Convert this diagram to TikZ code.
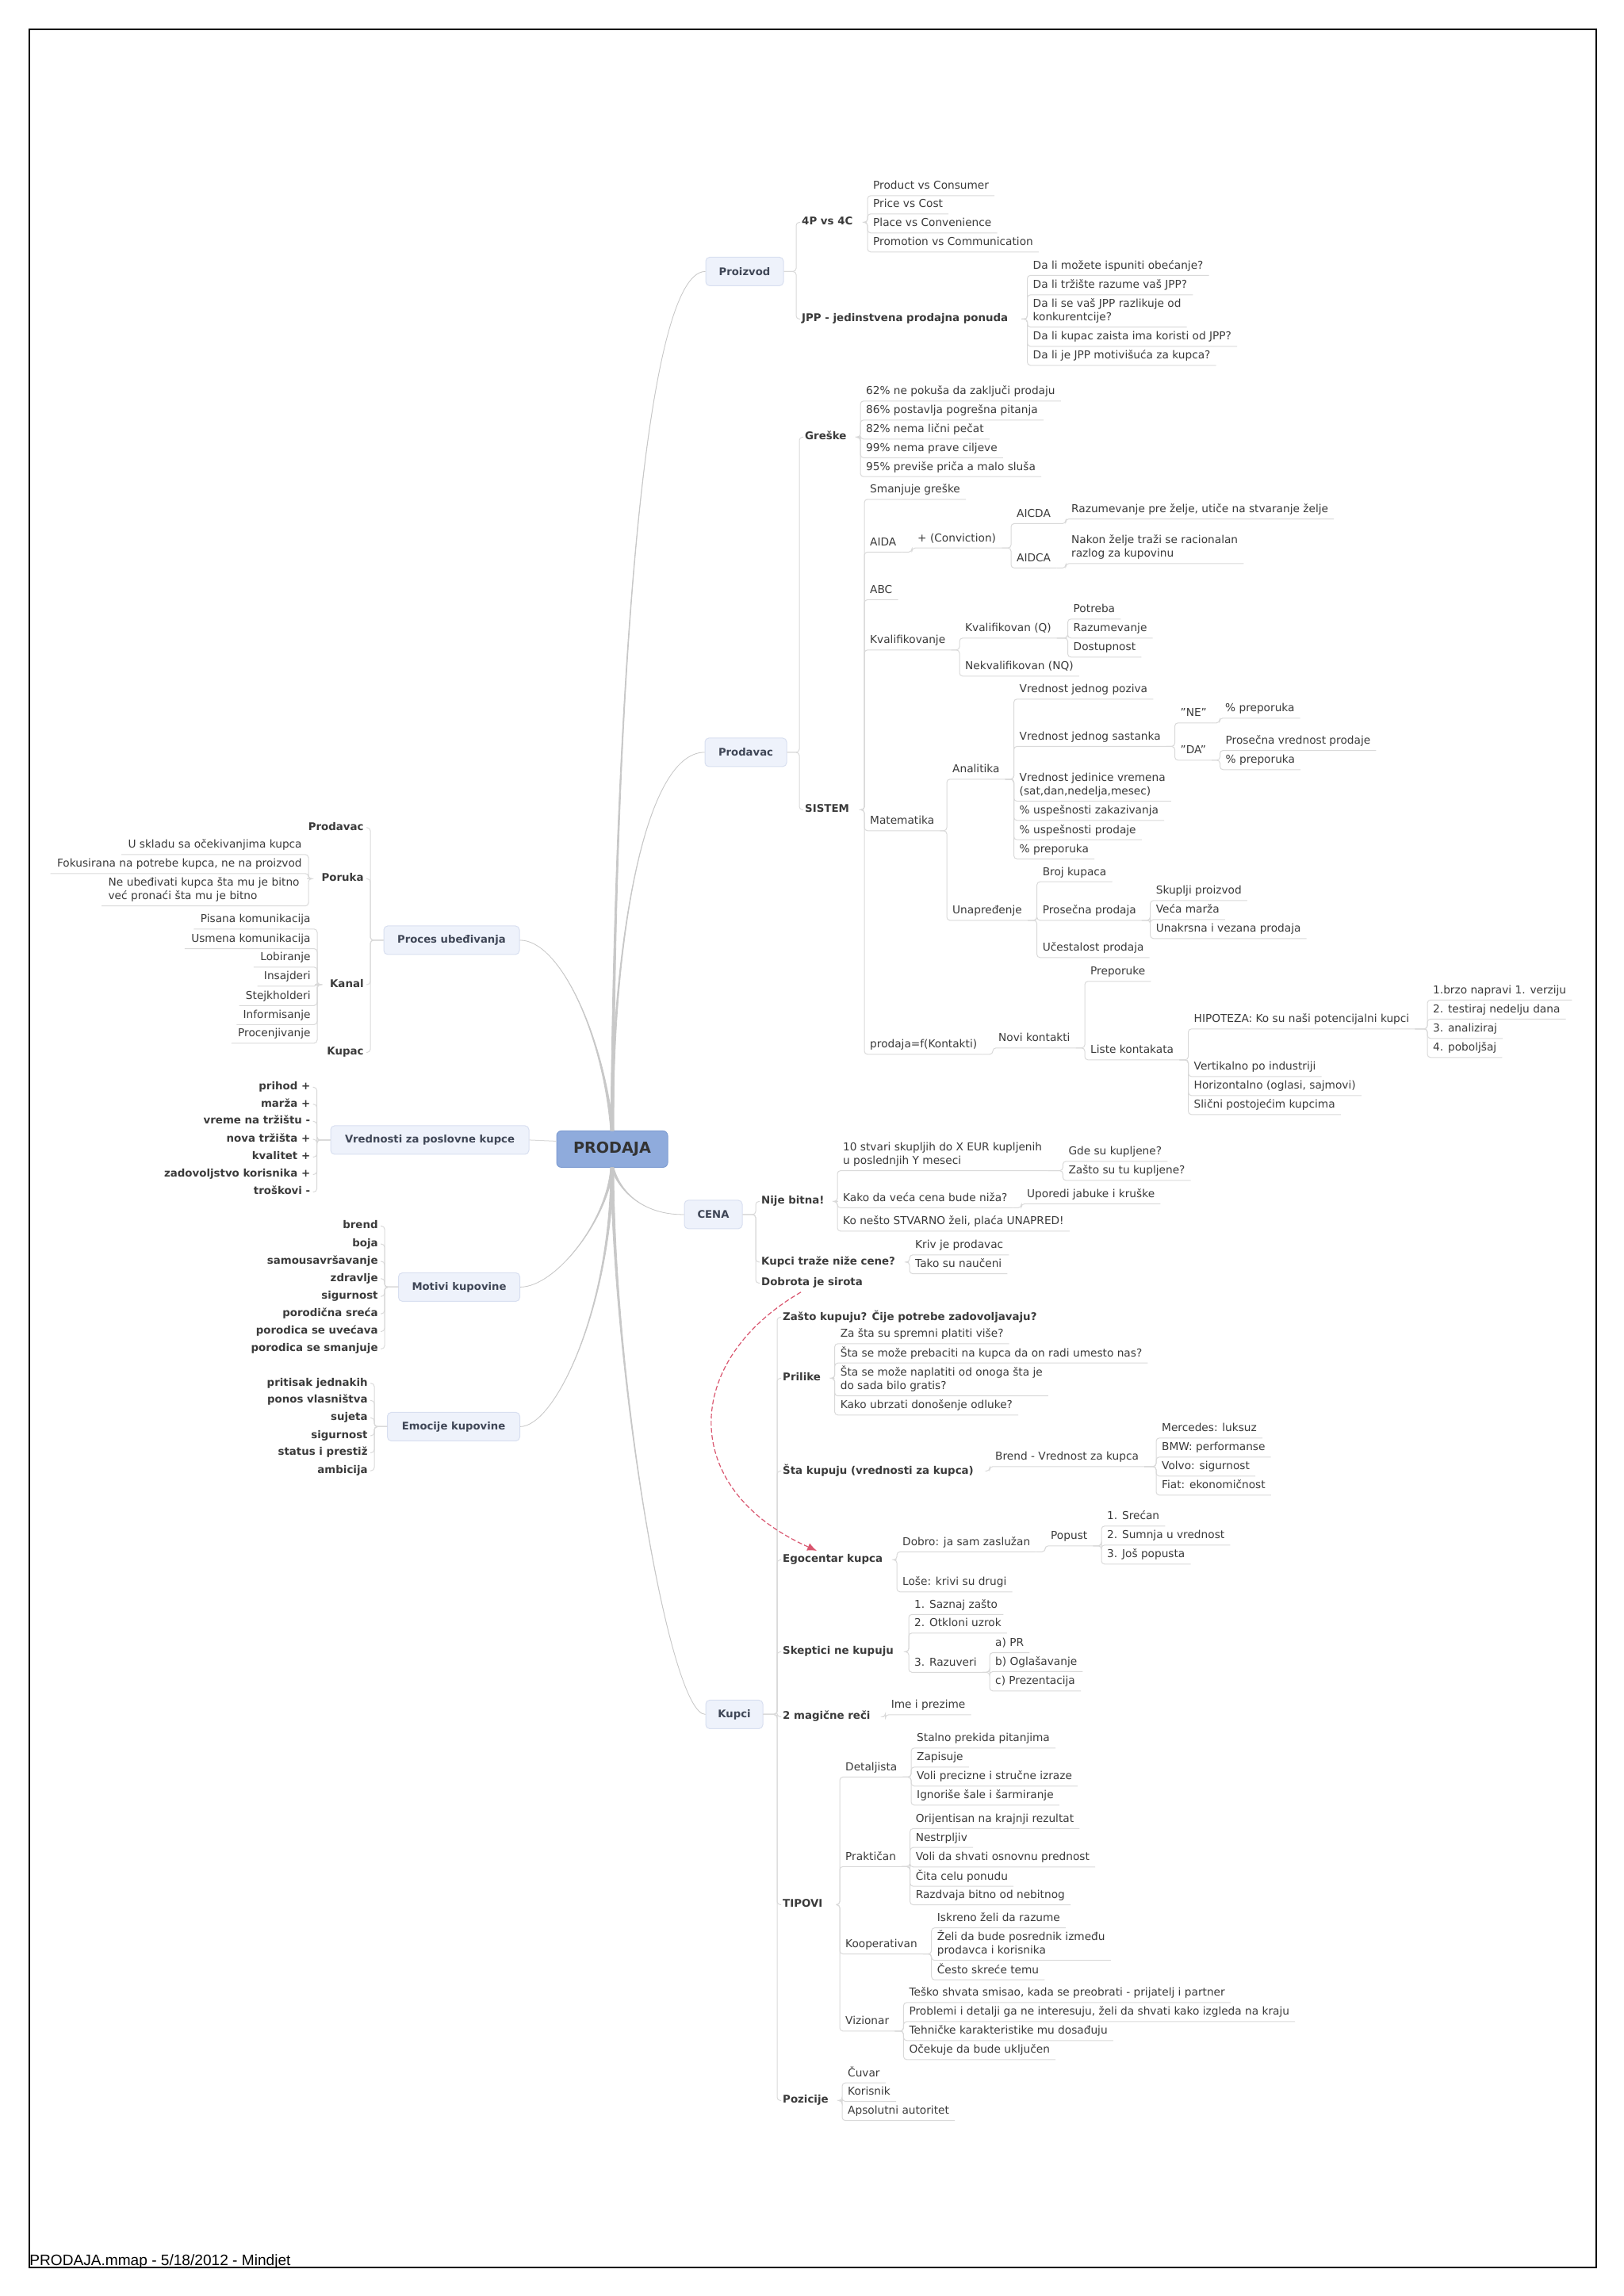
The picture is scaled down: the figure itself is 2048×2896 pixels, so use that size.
\documentclass[tikz,border=0pt]{standalone}
\usepackage{fontspec}
\setmainfont{DejaVu Sans}
\newfontfamily\footfont{Liberation Sans}
\usetikzlibrary{calc}
\usetikzlibrary{arrows.meta}
\definecolor{linec}{HTML}{D9D9D9}
\definecolor{limbc}{HTML}{C8C8C8}
\definecolor{txtc}{HTML}{3A3A3A}
\definecolor{boxc}{HTML}{EEF2FB}
\definecolor{boxd}{HTML}{D8DFF0}
\definecolor{rootc}{HTML}{8FABDC}
\definecolor{rootd}{HTML}{7F9DD2}
\definecolor{jumpc}{HTML}{D9566F}
\definecolor{brtxt}{HTML}{3F4656}
\newcommand{\leaffont}{\fontsize{6.85}{8.5}\selectfont}
\newcommand{\boldfont}{\fontsize{6.68}{8.5}\selectfont\bfseries}
\newcommand{\mstrut}{\rule[-2.55pt]{0pt}{8.5pt}}
\tikzset{
  leaf/.style={anchor=west, inner xsep=3.4pt, inner ysep=1.25pt, align=left, text=txtc, font=\leaffont,
    execute at begin node=\mstrut, execute at end node=\mstrut},
  leafl/.style={leaf, anchor=east, inner xsep=4pt},
  head/.style={leaf, font=\boldfont},
  headl/.style={leafl, font=\boldfont},
  branch/.style={draw=boxd, fill=boxc, rounded corners=2.5pt, line width=.5pt, minimum height=18pt, inner sep=0pt,
    text=brtxt, font=\fontsize{6.6}{8.5}\selectfont\bfseries},
  stem/.style={draw=linec, line width=.5pt, rounded corners=2pt},
  gap/.style={shorten <=5pt},
}
% parent to children with an underline
\newcommand{\kids}[3][]{\foreach \kid in {#3} {\draw[stem,#1] (#2) -| (\kid.south west) -- (\kid.south east);}}
\newcommand{\kidsl}[3][]{\foreach \kid in {#3} {\draw[stem,#1] (#2) -| (\kid.south east) -- (\kid.south west);}}
% parent to bold children
\newcommand{\heads}[3][]{\foreach \kid in {#3} {\draw[stem,#1] (#2) -| (\kid.west) -- ++(5,0);}}
\newcommand{\headsl}[3][]{\foreach \kid in {#3} {\draw[stem,#1] (#2) -| (\kid.east) -- ++(-5,0);}}
% tapered limb from the centre
\newcommand{\limb}[4]{\filldraw[limbc, line width=.4pt] ([xshift=-1pt]#1) .. controls #3 and #4 .. (#2) .. controls #4 and #3 .. ([xshift=1pt]#1) -- cycle;}
\begin{document}
\begin{tikzpicture}[x=.5pt,y=-.5pt]
\useasboundingbox (0,0) rectangle (2048,2896);
\draw[black,line width=1pt] (37,37) rectangle (2013,2860);
\node[anchor=south west, inner sep=0pt, font=\footfont\fontsize{9.55}{11}\selectfont] (foot) at (37,2862) {PRODAJA.mmap - 5/18/2012 - Mindjet};

\begin{scope}[yshift=-.7pt]
% main topics
\node[draw=rootd, fill=rootc, rounded corners=3pt, line width=.5pt, minimum width=70pt, minimum height=23pt, inner sep=0pt,
  text=black!80, font=\fontsize{9.6}{11}\selectfont\bfseries] (prodaja) at (772,1448) {PRODAJA};
\foreach \nm/\xx/\yy/\bw/\txt in {
  proizvod/939/341/49/Proizvod, prodavac/940.5/947.5/51.5/Prodavac, cena/899.5/1530.5/36.5/CENA, kupci/926/2161/36/Kupci,
  proces/569.5/1184.5/85.5/Proces ubeđivanja, vrednosti/542/1436.5/125/Vrednosti za poslovne kupce,
  motivi/579/1622/76.5/Motivi kupovine, emocije/572/1798/83.5/Emocije kupovine} {
  \node[branch, minimum width=\bw pt] (\nm) at (\xx,\yy) {\txt};
}
\limb{prodaja.north}{proizvod.west}{(775,900)}{(810,341)}
\limb{prodaja.north}{prodavac.west}{(772,1200)}{(810,948)}
\limb{prodaja.south}{cena.west}{(785,1510)}{(820,1531)}
\limb{prodaja.south}{kupci.west}{(775,1750)}{(845,2161)}
\limb{prodaja.north}{proces.east}{(760,1300)}{(705,1184)}
\draw[stem] (vrednosti.east) -- ([yshift=5pt]prodaja.west);
\limb{prodaja.south}{motivi.east}{(765,1540)}{(700,1622)}
\limb{prodaja.south}{emocije.east}{(770,1650)}{(700,1798)}

% Proizvod
\foreach \nm/\xx/\yy/\txt in {
  fourp/1004/279/4P vs 4C, jpp/1004/401/JPP - jedinstvena prodajna ponuda,
  greske/1008/550/Greške, sistem/1008/1020/SISTEM,
  nije/953/1514/Nije bitna!, trazeniz/953/1590.5/Kupci traže niže cene?, dobrota/953/1617/Dobrota je sirota,
  zasto/980/1660/Zašto kupuju? Čije potrebe zadovoljavaju?, prilike/980/1737/Prilike,
  stakup/980/1854/Šta kupuju (vrednosti za kupca), ego/980/1966/Egocentar kupca, skeptici/980/2082/Skeptici ne kupuju,
  magicne/980/2164/2 magične reči, tipovi/980/2401/TIPOVI, pozicije/980/2648/Pozicije} {
  \node[head] (\nm) at (\xx,\yy) {\txt};
}
\foreach \nm/\xx/\yy/\txt in {
  % 4P vs 4C, JPP
  pa/1094/234/Product vs Consumer, pb/1094/257/Price vs Cost, pc/1094/281/Place vs Convenience, pd/1094/305/Promotion vs Communication,
  ja/1295.5/334.5/Da li možete ispuniti obećanje?, jb/1295.5/359/Da li tržište razume vaš JPP?,
  jc/1295.5/391.6/{Da li se vaš JPP razlikuje od\\konkurentcije?}, jd/1295.5/424/Da li kupac zaista ima koristi od JPP?, je/1295.5/448/Da li je JPP motivišuća za kupca?,
  % Greske
  ga/1085/493/62\% ne pokuša da zaključi prodaju, gb/1085/517/86\% postavlja pogrešna pitanja, gc/1085/541/82\% nema lični pečat,
  gd/1085/564.5/99\% nema prave ciljeve, ge/1085/588.4/95\% previše priča a malo sluša,
  % Sistem
  sa/1090/617/Smanjuje greške, sb/1090/683.5/AIDA, sc/1090/743.6/ABC, sd/1090/807/Kvalifikovanje, se/1090/1035/Matematika, sf/1090/1317/prodaja=f(Kontakti),
  conv/1150/678.4/+ (Conviction), aicda/1275/647.6/AICDA, aidca/1275/703.6/AIDCA,
  razum/1344/641.7/{Razumevanje pre želje, utiče na stvaranje želje}, nakon/1344/690/{Nakon želje traži se racionalan\\razlog za kupovinu},
  kq/1210/792/Kvalifikovan (Q), nq/1210/840/Nekvalifikovan (NQ),
  qa/1346.5/768/Potreba, qb/1346.5/792/Razumevanje, qc/1346.5/816/Dostupnost,
  anal/1194/970/Analitika, unap/1194/1148/Unapređenje,
  va/1278.5/869/Vrednost jednog poziva, vb/1278.5/928.6/Vrednost jednog sastanka, vc/1278.5/990/{Vrednost jedinice vremena\\(sat,dan,nedelja,mesec)},
  vd/1278.5/1022/\% uspešnosti zakazivanja, ve/1278.5/1046.4/\% uspešnosti prodaje, vf/1278.5/1070.5/\% preporuka,
  ne/1481.5/899/"NE", da/1481.5/946/"DA", nea/1538/893/\% preporuka, daa/1538.5/933.7/Prosečna vrednost prodaje, dab/1538.5/958/\% preporuka,
  ua/1307.6/1099.4/Broj kupaca, ub/1307.6/1148/Prosečna prodaja, uc/1307.6/1195/Učestalost prodaja,
  ra/1450.6/1123/Skuplji proizvod, rb/1450.6/1147/Veća marža, rc/1450.6/1171/Unakrsna i vezana prodaja,
  novi/1252/1309/Novi kontakti, prep/1368/1225/Preporuke, liste/1368/1324/Liste kontakata,
  hipo/1498.5/1285/HIPOTEZA: Ko su naši potencijalni kupci, lb/1498.5/1345/Vertikalno po industriji, lc/1498.5/1369/{Horizontalno (oglasi, sajmovi)}, ld/1498.5/1393/Slični postojećim kupcima,
  ha/1800/1248.5/1.brzo napravi 1. verziju, hb/1800/1272.6/2. testiraj nedelju dana, hc/1800/1297/3. analiziraj, hd/1800/1321/4. poboljšaj,
  % Cena
  ca/1056/1456/{10 stvari skupljih do X EUR kupljenih\\u poslednjih Y meseci}, cb/1056/1510.6/Kako da veća cena bude niža?, cc/1056/1540/{Ko nešto STVARNO želi, plaća UNAPRED!},
  gde/1340.3/1452/Gde su kupljene?, zas/1340.3/1476/Zašto su tu kupljene?, upo/1288/1505.6/Uporedi jabuke i kruške,
  kriv/1147/1570/Kriv je prodavac, tako/1147/1593.8/Tako su naučeni,
  % Kupci
  la/1052.6/1682/Za šta su spremni platiti više?, lb2/1052.6/1706/Šta se može prebaciti na kupca da on radi umesto nas?,
  lc2/1052.6/1739/{Šta se može naplatiti od onoga šta je\\do sada bilo gratis?}, ld2/1052.6/1772/Kako ubrzati donošenje odluke?,
  brend/1248/1837/Brend - Vrednost za kupca, ma/1458/1801/Mercedes: luksuz, mb/1458/1825/BMW: performanse, mc/1458/1849/Volvo: sigurnost, md/1458/1873/Fiat: ekonomičnost,
  dobro/1131/1944.5/Dobro: ja sam zaslužan, lose/1131/1995/Loše: krivi su drugi, popust/1318/1937/Popust,
  oa/1389/1912/1. Srećan, ob/1389/1936/2. Sumnja u vrednost, oc/1389/1960/3. Još popusta,
  ka/1146/2023.5/1. Saznaj zašto, kb/1146/2047/2. Otkloni uzrok, kc/1146/2096.5/3. Razuveri,
  za/1248/2071.7/a) PR, zb/1248/2095.6/b) Oglašavanje, zc/1248/2120/c) Prezentacija,
  ime/1116.6/2150/Ime i prezime,
  deta/1059/2228.6/Detaljista, prak/1059/2341.5/Praktičan, koop/1059/2451.7/Kooperativan, vizi/1059/2549/Vizionar,
  dea/1149/2192/Stalno prekida pitanjima, deb/1149/2216/Zapisuje, dec/1149/2240/Voli precizne i stručne izraze, ded/1149/2264/Ignoriše šale i šarmiranje,
  pra/1147.6/2293.6/Orijentisan na krajnji rezultat, prb/1147.6/2317.4/Nestrpljiv, prc/1147.6/2342/Voli da shvati osnovnu prednost, prd/1147.6/2366/Čita celu ponudu, pre/1147.6/2389.7/Razdvaja bitno od nebitnog,
  koa/1174.7/2418.8/Iskreno želi da razume, kob/1174.7/2451/{Želi da bude posrednik između\\prodavca i korisnika}, koc/1174.7/2484/Često skreće temu,
  via/1139.4/2513/{Teško shvata smisao, kada se preobrati - prijatelj i partner}, vib/1139.4/2537/{Problemi i detalji ga ne interesuju, želi da shvati kako izgleda na kraju},
  vic/1139.4/2561/Tehničke karakteristike mu dosađuju, vid/1139.4/2585/Očekuje da bude uključen,
  poa/1062/2614/Čuvar, pob/1062/2637.7/Korisnik, poc/1062/2661.8/Apsolutni autoritet} {
  \node[leaf] (\nm) at (\xx,\yy) {\txt};
}

% left side
\foreach \nm/\xx/\yy/\txt in {
  lprod/467/1042.5/Prodavac, lpor/467/1107/Poruka, lkan/467/1240.5/Kanal, lkup/467/1326/Kupac,
  vra/399.6/1370/prihod +, vrb/399.6/1391.5/marža +, vrc/399.6/1413/vreme na tržištu -, vrd/399.6/1435.7/nova tržišta +,
  vre/399.6/1458/kvalitet +, vrf/399.6/1480/zadovoljstvo korisnika +, vrg/399.6/1502/troškovi -,
  moa/485/1545/brend, mob/485/1567.7/boja, moc/485/1589.6/samousavršavanje, mod/485/1611.4/zdravlje,
  moe/485/1633.7/sigurnost, mof/485/1655.6/porodična sreća, mog/485/1678/porodica se uvećava, moh/485/1700/porodica se smanjuje,
  ema/472/1743.4/pritisak jednakih, emb/472/1765/ponos vlasništva, emc/472/1787/sujeta, emd/472/1809.4/sigurnost, eme/472/1831/status i prestiž, emf/472/1853.6/ambicija} {
  \node[headl] (\nm) at (\xx,\yy) {\txt};
}
\foreach \nm/\xx/\yy/\txt in {
  poa1/389/1065/U skladu sa očekivanjima kupca, pob1/389/1089/{Fokusirana na potrebe kupca, ne na proizvod},
  kaa/400/1159/Pisana komunikacija, kab/400/1183.7/Usmena komunikacija, kac/400/1207/Lobiranje, kad/400/1231/Insajderi,
  kae/400/1255.5/Stejkholderi, kaf/400/1279.6/Informisanje, kag/400/1303/Procenjivanje} {
  \node[leafl] (\nm) at (\xx,\yy) {\txt};
}
\node[leafl, text width=122pt] (poc1) at (389,1121.4) {Ne ubeđivati kupca šta mu je bitno\\već pronaći šta mu je bitno};

% connectors
\heads{proizvod.east}{fourp,jpp}
\heads{prodavac.east}{greske,sistem}
\heads{cena.east}{nije,trazeniz,dobrota}
\heads{kupci.east}{zasto,prilike,stakup,ego,skeptici,magicne,tipovi,pozicije}
\kids[gap]{fourp.east}{pa,pb,pc,pd}
\kids[gap]{jpp.east}{ja,jb,jc,jd,je}
\kids[gap]{greske.east}{ga,gb,gc,gd,ge}
\kids[gap]{sistem.east}{sa,sb,sc,sd,se,sf}
\kids{sb.south east}{conv}
\kids{conv.south east}{aicda,aidca}
\kids{aicda.south east}{razum}
\kids{aidca.south east}{nakon}
\kids{sd.south east}{kq,nq}
\kids{kq.south east}{qa,qb,qc}
\kids{se.south east}{anal,unap}
\kids{anal.south east}{va,vb,vc,vd,ve,vf}
\kids{vb.south east}{ne,da}
\kids{ne.south east}{nea}
\kids{da.south east}{daa,dab}
\kids{unap.south east}{ua,ub,uc}
\kids{ub.south east}{ra,rb,rc}
\kids{sf.south east}{novi}
\kids{novi.south east}{prep,liste}
\kids{liste.south east}{hipo,lb,lc,ld}
\kids{hipo.south east}{ha,hb,hc,hd}
\kids[gap]{nije.east}{ca,cb,cc}
\kids{ca.south east}{gde,zas}
\kids{cb.south east}{upo}
\kids[gap]{trazeniz.east}{kriv,tako}
\kids[gap]{prilike.east}{la,lb2,lc2,ld2}
\kids[gap]{stakup.east}{brend}
\kids{brend.south east}{ma,mb,mc,md}
\kids[gap]{ego.east}{dobro,lose}
\kids{dobro.south east}{popust}
\kids{popust.south east}{oa,ob,oc}
\kids[gap]{skeptici.east}{ka,kb,kc}
\kids{kc.south east}{za,zb,zc}
\kids[gap]{magicne.east}{ime}
\kids[gap]{tipovi.east}{deta,prak,koop,vizi}
\kids{deta.south east}{dea,deb,dec,ded}
\kids{prak.south east}{pra,prb,prc,prd,pre}
\kids{koop.south east}{koa,kob,koc}
\kids{vizi.south east}{via,vib,vic,vid}
\kids[gap]{pozicije.east}{poa,pob,poc}
\headsl{proces.west}{lprod,lpor,lkan,lkup}
\headsl{vrednosti.west}{vra,vrb,vrc,vrd,vre,vrf,vrg}
\headsl{motivi.west}{moa,mob,moc,mod,moe,mof,mog,moh}
\headsl{emocije.west}{ema,emb,emc,emd,eme,emf}
\kidsl[gap]{lpor.west}{poa1,pob1,poc1}
\kidsl[gap]{lkan.west}{kaa,kab,kac,kad,kae,kaf,kag}

% jump from Dobrota to Egocentar
\draw[jumpc, line width=.6pt, dash pattern=on 3pt off 1.5pt, -{Latex[length=6pt,width=5pt]}] ([xshift=-7pt]dobrota.south) .. controls (859,1716) and (856,1877) .. ([xshift=-10pt]ego.north);
\end{scope}
\end{tikzpicture}
\end{document}
